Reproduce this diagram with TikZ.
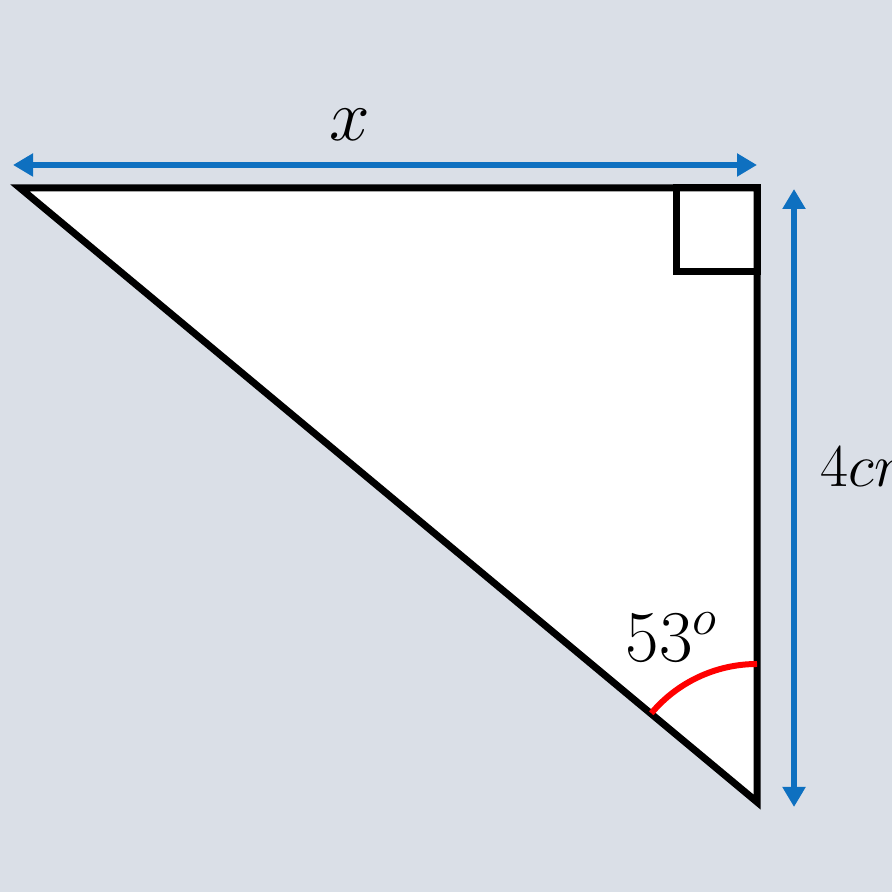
\documentclass[tikz,border=0pt]{standalone}
\usepackage{amsmath,amssymb}
\usepackage{xcolor}
\usepackage{tikz}
\usetikzlibrary{arrows.meta}
\definecolor{panelgrey}{RGB}{218,223,231}
\definecolor{measureblue}{RGB}{14,112,192}
\tikzset{
  edge/.style={line width=2pt, line join=miter},
  measure/.style={measureblue, line width=1.5pt, {Triangle[length=0.2cm,width=0.22cm]}-{Triangle[length=0.2cm,width=0.22cm]}},
  lbl/.style={font=\fontsize{20}{24}\selectfont, inner sep=0pt}
}

\begin{document}
\begin{tikzpicture}[x=0.01cm,y=0.01cm]
    \fill[panelgrey] (0,0) rectangle (892,892);
    \clip (0,0) rectangle (892,892);
    % triangle
    \coordinate (A) at (20,704);
    \coordinate (B) at (757,704);
    \coordinate (C) at (757,90);
    \draw[edge, fill=white] (A) -- (B) -- (C) -- cycle;
    \draw[edge] (676,704) rectangle (757,620);
    % angle mark
    \draw[red, line width=1.7pt] (C) ++(90:138) arc[start angle=90, end angle=140, radius=138];
    % measurements
    \coordinate (xL) at (13,727);
    \coordinate (xR) at (757,727);
    \coordinate (hT) at (794,703);
    \coordinate (hB) at (794,85);
    \draw[measure] (xL) -- (xR);
    \draw[measure] (hT) -- (hB);
    \node[lbl] (xlab) at (350,767) {$x$};
    \node[lbl, anchor=west, font=\fontsize{18}{22}\selectfont] (hlab) at (820,425) {$4cm$};
    \node[lbl] (anglab) at (672,255) {$53^{o}$};
\end{tikzpicture}
\end{document}
